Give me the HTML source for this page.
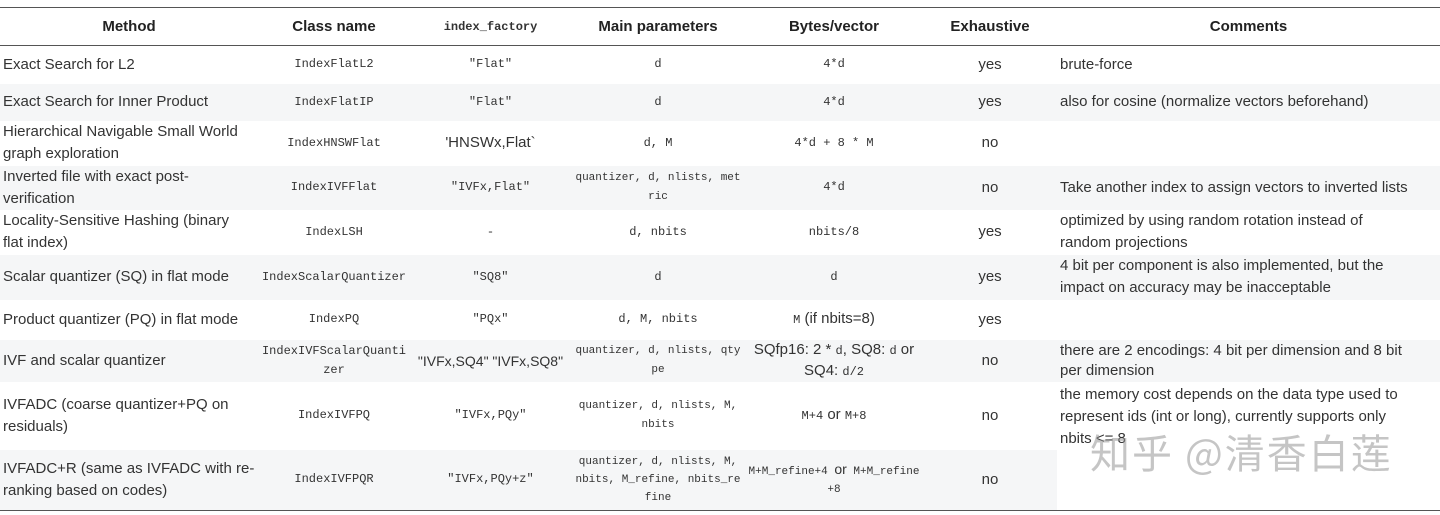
<!DOCTYPE html>
<html><head><meta charset="utf-8"><style>
html,body{margin:0;padding:0;background:#fff;width:1440px;height:515px;overflow:hidden;position:relative}
table{position:absolute;left:0;top:7px;border-collapse:collapse;table-layout:fixed;width:1440px;font-family:"Liberation Sans",sans-serif;font-size:15px;color:#333;border-top:1.5px solid #555;border-bottom:1.5px solid #555}
td,th{padding:0 3px;line-height:22px;overflow:hidden;vertical-align:middle}
th{font-weight:bold;font-size:15px;text-align:center;border-bottom:1.5px solid #555;height:37px;color:#222}
td{text-align:center}
td.l{text-align:left}
td.c{padding-right:14px}
tr.s td{background:#f5f6f7}
code,.m{font-family:"Liberation Mono",monospace;font-size:12px;color:#333}
td.m{word-break:break-all;line-height:19px;padding:0 2px}
td.mm{font-size:11px;line-height:19px}
th code{font-size:12px;font-weight:bold}
.wm{position:absolute;left:1090px;top:422px;font-family:"Noto Sans CJK SC",sans-serif;font-size:40px;color:rgba(150,150,150,0.55);letter-spacing:2px;white-space:nowrap}
</style></head><body>
<table>
<colgroup><col style="width:258px"><col style="width:152px"><col style="width:161px"><col style="width:174px"><col style="width:178px"><col style="width:134px"><col style="width:383px"></colgroup>
<tr><th>Method</th><th>Class name</th><th><code>index_factory</code></th><th>Main parameters</th><th>Bytes/vector</th><th>Exhaustive</th><th>Comments</th></tr>
<tr style="height:38px"><td class="l">Exact Search for L2</td><td class="m">IndexFlatL2</td><td class="m">"Flat"</td><td class="m">d</td><td class="m">4*d</td><td>yes</td><td class="l c">brute-force</td></tr>
<tr class="s" style="height:37px"><td class="l">Exact Search for Inner Product</td><td class="m">IndexFlatIP</td><td class="m">"Flat"</td><td class="m">d</td><td class="m">4*d</td><td>yes</td><td class="l c">also for cosine (normalize vectors beforehand)</td></tr>
<tr style="height:45px"><td class="l">Hierarchical Navigable Small World graph exploration</td><td class="m">IndexHNSWFlat</td><td>'HNSWx,Flat`</td><td class="m">d, M</td><td class="m">4*d + 8 * M</td><td>no</td><td class="l c"></td></tr>
<tr class="s" style="height:44px"><td class="l">Inverted file with exact post-verification</td><td class="m">IndexIVFFlat</td><td class="m">"IVFx,Flat"</td><td class="m mm">quantizer, d, nlists, metric</td><td class="m">4*d</td><td>no</td><td class="l c">Take another index to assign vectors to inverted lists</td></tr>
<tr style="height:45px"><td class="l" style="padding-right:12px">Locality-Sensitive Hashing (binary flat index)</td><td class="m">IndexLSH</td><td class="m">-</td><td class="m">d, nbits</td><td class="m">nbits/8</td><td>yes</td><td class="l c" style="padding-right:30px">optimized by using random rotation instead of random projections</td></tr>
<tr class="s" style="height:45px"><td class="l">Scalar quantizer (SQ) in flat mode</td><td class="m">IndexScalarQuantizer</td><td class="m">"SQ8"</td><td class="m">d</td><td class="m">d</td><td>yes</td><td class="l c" style="padding-right:20px">4 bit per component is also implemented, but the impact on accuracy may be inacceptable</td></tr>
<tr style="height:40px"><td class="l">Product quantizer (PQ) in flat mode</td><td class="m">IndexPQ</td><td class="m">"PQx"</td><td class="m">d, M, nbits</td><td><span class="m">M</span> (if nbits=8)</td><td>yes</td><td class="l c"></td></tr>
<tr class="s" style="height:42px"><td class="l">IVF and scalar quantizer</td><td class="m">IndexIVFScalarQuantizer</td><td style="font-size:14px;padding:0;white-space:nowrap">"IVFx,SQ4" "IVFx,SQ8"</td><td class="m mm">quantizer, d, nlists, qtype</td><td style="line-height:20px">SQfp16: 2 * <span class="m">d</span>, SQ8: <span class="m">d</span> or SQ4: <span class="m">d/2</span></td><td>no</td><td class="l c" style="line-height:20px">there are 2 encodings: 4 bit per dimension and 8 bit per dimension</td></tr>
<tr style="height:68px"><td class="l">IVFADC (coarse quantizer+PQ on residuals)</td><td class="m">IndexIVFPQ</td><td class="m">"IVFx,PQy"</td><td class="m mm">quantizer, d, nlists, M, nbits</td><td><span class="m">M+4</span> or <span class="m">M+8</span></td><td>no</td><td class="l c" style="vertical-align:top;padding-top:2px;padding-right:30px">the memory cost depends on the data type used to represent ids (int or long), currently supports only nbits &lt;= 8</td></tr>
<tr class="s" style="height:61px"><td class="l">IVFADC+R (same as IVFADC with re-ranking based on codes)</td><td class="m">IndexIVFPQR</td><td class="m">"IVFx,PQy+z"</td><td class="m mm" style="line-height:18px">quantizer, d, nlists, M, nbits, M_refine, nbits_refine</td><td class="m" style="line-height:18px;font-size:11px">M+M_refine+4 <span style="font-family:'Liberation Sans',sans-serif;font-size:14px">or</span> M+M_refine+8</td><td>no</td><td class="l c" style="background:#fff"></td></tr>
</table>
<div class="wm">知乎 @清香白莲</div>
</body></html>
